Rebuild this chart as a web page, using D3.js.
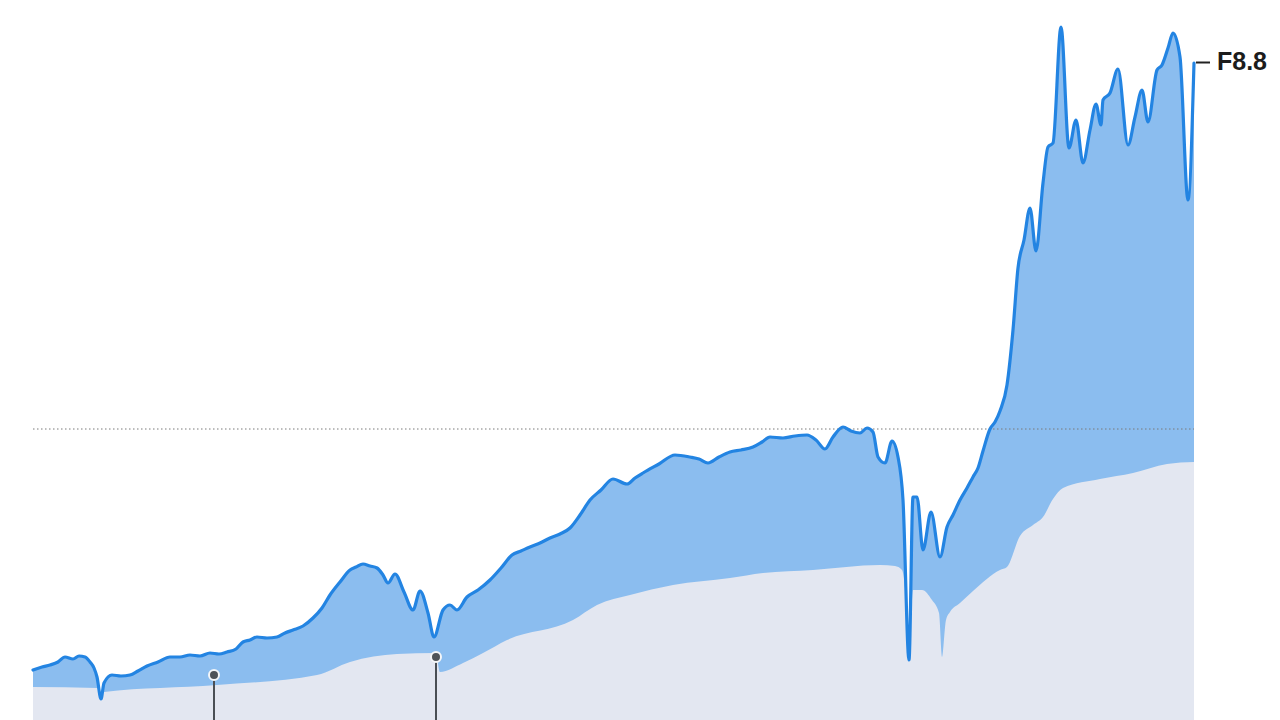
<!DOCTYPE html>
<html>
<head>
<meta charset="utf-8">
<script src="https://cdn.jsdelivr.net/npm/d3@7"></script>
<style>
  html, body { margin: 0; padding: 0; background: #ffffff; overflow: hidden; }
  svg { display: block; }
</style>
</head>
<body>
<svg id="chart" width="1280" height="720"></svg>
<script>
// ---- data (period index, value) ----
const upperPeriods = [0,9,17,25,32,40,46,52,57,61,64,68,71,79,88,97,105,114,125,137,147,157,167,177,186,194,203,210,217,224,234,244,252,260,270,280,289,297,307,317,323,330,337,344,350,355,362,371,380,387,395,401,410,417,424,434,445,457,468,479,488,497,507,517,527,537,547,557,568,580,594,602,610,626,642,657,666,675,686,697,708,720,729,737,750,762,774,783,792,800,810,818,827,834,840,845,852,859,865,870,876,880,884,890,898,907,914,920,927,934,940,945,950,957,962,967,974,980,985,991,997,1003,1010,1015,1020,1028,1036,1043,1050,1057,1063,1068,1070,1077,1085,1095,1102,1109,1115,1124,1129,1135,1140,1147,1155,1161];
const upperValues  = [50,53,55,58,63,61,64,63,58,52,43,21,37,45,44,45,49,54,58,63,63,65,64,67,66,68,71,78,80,83,82,83,87,90,94,102,112,125,138,150,153,156,154,152,145,137,146,128,110,129,107,83,110,115,110,123,130,140,152,165,169,173,177,182,186,192,205,220,230,241,236,242,247,256,265,263,261,257,263,268,270,273,278,283,282,284,285,280,271,283,293,289,287,292,288,263,257,279,263,220,60,223,223,170,208,163,193,205,220,232,243,252,269,291,298,309,335,390,452,480,512,469,537,573,577,693,572,600,557,590,616,595,620,627,651,575,603,630,598,650,655,672,687,663,520,657];

const lowerPeriods = [0,64,68,71,184,284,317,364,403,407,430,450,474,540,564,597,640,697,730,780,847,862,869,873,876,879,880,889,899,906,909,913,917,927,940,967,974,987,1000,1010,1020,1030,1067,1100,1134,1161];
const lowerValues  = [33,32,27,28,35,45,58,66,67,48,57,67,80,100,115,125,135,142,147,150,155,154,150,120,65,120,130,130,120,107,63,100,108,117,129,150,153,184,195,203,221,232,241,247,256,258];

const referenceValue = 291;            // dotted reference level
const markerPeriods = [181, 403];
const markerValues  = [45, 63];
const endLabel = "F8.8";

// ---- scales ----
const x = d3.scaleLinear().domain([0, 1161]).range([33, 1194]);
const y = d3.scaleLinear().domain([0, 700]).range([720, 20]);

const upper = upperPeriods.map((p, i) => ({ p, v: upperValues[i] }));
const lower = lowerPeriods.map((p, i) => ({ p, v: lowerValues[i] }));

const svg = d3.select("#chart");
const curve = d3.curveMonotoneX;

// blue fill under main line
svg.append("path")
  .datum(upper)
  .attr("fill", "#8bbdef")
  .attr("d", d3.area().curve(curve).x(d => x(d.p)).y0(y(0)).y1(d => y(d.v)));

// light base area
svg.append("path")
  .datum(lower)
  .attr("fill", "#e3e7f1")
  .attr("d", d3.area().curve(curve).x(d => x(d.p)).y0(y(0)).y1(d => y(d.v)));

// dotted reference line
svg.append("line")
  .attr("x1", x(0)).attr("x2", x(1161))
  .attr("y1", y(referenceValue)).attr("y2", y(referenceValue))
  .attr("stroke", "#7a7a7a")
  .attr("stroke-width", 1)
  .attr("stroke-dasharray", "1.5,2.5");

// main line
svg.append("path")
  .datum(upper)
  .attr("fill", "none")
  .attr("stroke", "#2384e2")
  .attr("stroke-width", 3.2)
  .attr("stroke-linejoin", "round")
  .attr("stroke-linecap", "round")
  .attr("d", d3.line().curve(curve).x(d => x(d.p)).y(d => y(d.v)));

// markers with stems
const markers = markerPeriods.map((p, i) => ({ p, v: markerValues[i] }));
const mg = svg.append("g");
mg.selectAll("line").data(markers).join("line")
  .attr("x1", d => x(d.p)).attr("x2", d => x(d.p))
  .attr("y1", d => y(d.v)).attr("y2", y(0))
  .attr("stroke", "#4a4f55").attr("stroke-width", 2);
mg.selectAll("circle").data(markers).join("circle")
  .attr("cx", d => x(d.p)).attr("cy", d => y(d.v))
  .attr("r", 5)
  .attr("fill", "#4e5358")
  .attr("stroke", "#f4f6f8").attr("stroke-width", 2);

// end label
const last = upper[upper.length - 1];
svg.append("line")
  .attr("x1", x(last.p) + 2).attr("x2", x(last.p) + 16)
  .attr("y1", y(last.v) - 0.5).attr("y2", y(last.v) - 0.5)
  .attr("stroke", "#222").attr("stroke-width", 2);
svg.append("text")
  .attr("x", x(last.p) + 23)
  .attr("y", y(last.v) + 7)
  .attr("font-family", "Liberation Sans, Arial, sans-serif")
  .attr("font-size", 25)
  .attr("font-weight", "bold")
  .attr("fill", "#1c1c1c")
  .text(endLabel);
</script>
</body>
</html>
